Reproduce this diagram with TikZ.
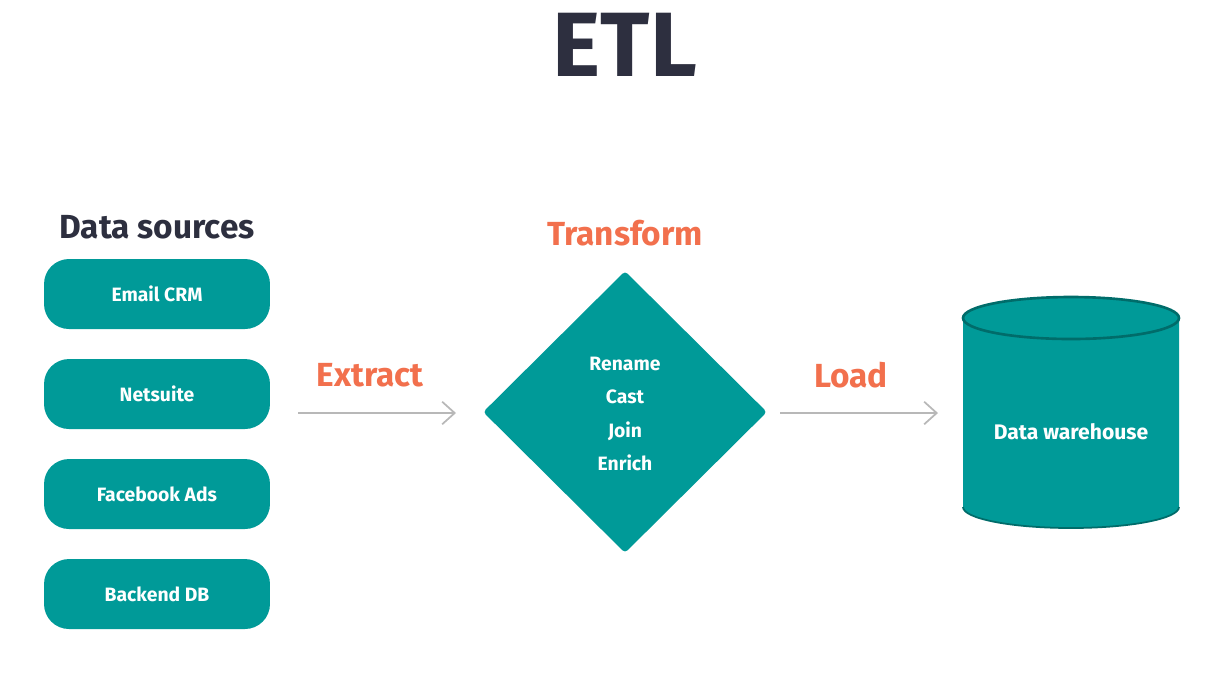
\documentclass[tikz,border=0pt]{standalone}
\usepackage{fontspec}
\setmainfont{Fira Sans}
\usetikzlibrary{arrows.meta,positioning,shapes.geometric}
\definecolor{etlteal}{HTML}{009A98}
\definecolor{etldark}{HTML}{2D2F3F}
\definecolor{etlorange}{HTML}{F2704D}
\definecolor{etlgray}{HTML}{B8B8B8}
\tikzset{
    source/.style={fill=etlteal, rounded corners=0.5cm, minimum width=4.52cm, minimum height=1.4cm, text=white, font=\bfseries\fontsize{11}{13}\selectfont},
    stage/.style={text=etlorange, font=\bfseries\fontsize{19}{22}\selectfont},
    flow/.style={-{Straight Barb[length=2.5mm,width=4.5mm]}, etlgray, line width=1pt}
}
\begin{document}
\begin{tikzpicture}[x=0.02cm, y=-0.02cm]
    % Canvas
    \useasboundingbox (0,0) rectangle (1216,698);

    % Title
    \node[text=etldark, font=\bfseries\fontsize{52}{60}\selectfont] (title) at (625,45) {ETL};

    % Data sources
    \node[text=etldark, font=\bfseries\fontsize{19}{22}\selectfont] (srclabel) at (157,227) {Data sources};
    \node[source] (crm) at (157,294) {Email CRM};
    \node[source] (netsuite) at (157,394) {Netsuite};
    \node[source] (fb) at (157,494) {Facebook Ads};
    \node[source] (db) at (157,594) {Backend DB};

    % Transform
    \node[stage] (translabel) at (625,233) {Transform};
    \node[diamond, fill=etlteal, minimum width=5.68cm, minimum height=5.64cm, inner sep=0pt, rounded corners=2pt] (transform) at (625,412) {};
    \node[text=white, font=\bfseries\fontsize{11}{16}\selectfont, align=center] (steps) at (625,414) {Rename\\[0.1cm]Cast\\[0.1cm]Join\\[0.1cm]Enrich};

    % Warehouse
    \fill[etlteal] (963,318) -- (963,507) arc[start angle=180, end angle=360, x radius=108, y radius=-21] -- (1179,318) -- cycle;
    \draw[etlteal!70!black, line width=1pt] (963,507) arc[start angle=180, end angle=360, x radius=108, y radius=-21];
    \draw[etlteal!70!black, fill=etlteal, line width=1.5pt] (1071,318) ellipse[x radius=108, y radius=21];
    \node[text=white, font=\bfseries\fontsize{12}{14}\selectfont] (warehouse) at (1071,432) {Data warehouse};

    % Flows
    \coordinate (exstart) at (298,413);
    \coordinate (exend) at (456,413);
    \coordinate (ldstart) at (780,413);
    \coordinate (ldend) at (938,413);
    \draw[flow] (exstart) -- (exend);
    \draw[flow] (ldstart) -- (ldend);
    \node[stage] (extract) at (370,375) {Extract};
    \node[stage] (load) at (851,375) {Load};
\end{tikzpicture}
\end{document}
